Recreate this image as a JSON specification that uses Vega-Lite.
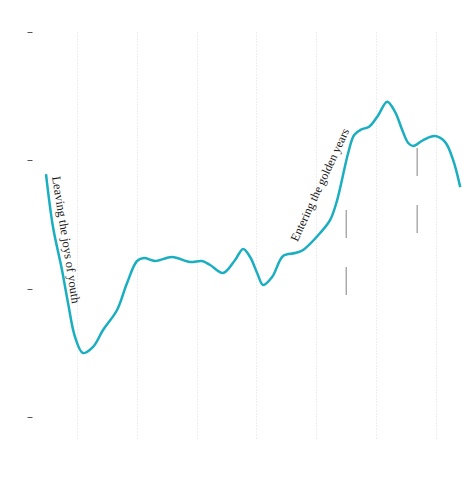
{
  "$schema": "https://vega.github.io/schema/vega-lite/v6.json",
  "width": 428,
  "height": 408,
  "autosize": {"type": "none"},
  "padding": {"left": 32, "top": 32, "right": 14, "bottom": 45},
  "background": "white",
  "config": {"view": {"stroke": null}},
  "datasets": {
    "curve": [
      {"age": 14.84, "v": 1.893},
      {"age": 16.01, "v": 1.480},
      {"age": 17.51, "v": 1.145},
      {"age": 18.52, "v": 0.888},
      {"age": 19.69, "v": 0.623},
      {"age": 21.02, "v": 0.498},
      {"age": 22.70, "v": 0.545},
      {"age": 24.37, "v": 0.677},
      {"age": 26.71, "v": 0.833},
      {"age": 28.38, "v": 1.044},
      {"age": 30.05, "v": 1.215},
      {"age": 31.22, "v": 1.238},
      {"age": 33.06, "v": 1.215},
      {"age": 35.90, "v": 1.246},
      {"age": 38.91, "v": 1.207},
      {"age": 40.91, "v": 1.215},
      {"age": 42.25, "v": 1.184},
      {"age": 44.42, "v": 1.122},
      {"age": 46.43, "v": 1.223},
      {"age": 47.77, "v": 1.309},
      {"age": 48.94, "v": 1.246},
      {"age": 50.11, "v": 1.122},
      {"age": 51.11, "v": 1.028},
      {"age": 52.61, "v": 1.090},
      {"age": 54.45, "v": 1.254},
      {"age": 56.46, "v": 1.277},
      {"age": 57.79, "v": 1.301},
      {"age": 60.64, "v": 1.433},
      {"age": 62.31, "v": 1.535},
      {"age": 63.48, "v": 1.690},
      {"age": 65.32, "v": 2.057},
      {"age": 66.32, "v": 2.197},
      {"age": 67.50, "v": 2.240},
      {"age": 68.82, "v": 2.262},
      {"age": 70.32, "v": 2.350},
      {"age": 71.83, "v": 2.457},
      {"age": 73.17, "v": 2.376},
      {"age": 74.35, "v": 2.236},
      {"age": 75.35, "v": 2.135},
      {"age": 76.18, "v": 2.112},
      {"age": 77.85, "v": 2.158},
      {"age": 79.85, "v": 2.189},
      {"age": 81.52, "v": 2.142},
      {"age": 82.86, "v": 2.002},
      {"age": 84.04, "v": 1.791}
    ],
    "marks": [
      {"age": 65.0, "top": 1.613, "bottom": 0.950},
      {"age": 76.85, "top": 2.096, "bottom": 1.433}
    ],
    "notes": [
      {"age": 15.84, "v": 1.870, "label": "Leaving the joys of youth", "kind": "youth"},
      {"age": 56.85, "v": 1.362, "label": "Entering the golden years", "kind": "golden"}
    ]
  },
  "encoding": {
    "x": {
      "field": "age", "type": "quantitative",
      "scale": {"domain": [12.5, 84], "nice": false, "zero": false},
      "axis": {
        "title": null, "labels": false, "ticks": false, "domain": false,
        "values": [20, 30, 40, 50, 60, 70, 80],
        "grid": true, "gridColor": "#dcdcdc", "gridDash": [1, 2], "gridWidth": 1
      }
    }
  },
  "layer": [
    {
      "data": {"name": "curve"},
      "mark": {"type": "line", "interpolate": "catmull-rom", "color": "#19AEC0", "strokeWidth": 2.5},
      "encoding": {
        "y": {
          "field": "v", "type": "quantitative",
          "scale": {"domain": [-0.18, 3], "nice": false, "zero": false},
          "axis": {
            "title": null, "labels": false, "domain": false, "grid": false,
            "values": [0, 1, 2, 3], "ticks": true, "tickSize": 5, "tickColor": "#555", "tickWidth": 1
          }
        }
      }
    },
    {
      "data": {"name": "marks"},
      "mark": {"type": "rule", "color": "#a6a6a6", "strokeWidth": 1.4, "strokeDash": [28, 29]},
      "encoding": {
        "y": {"field": "top", "type": "quantitative"},
        "y2": {"field": "bottom"}
      }
    },
    {
      "data": {"name": "notes"},
      "transform": [{"filter": "datum.kind == 'youth'"}],
      "mark": {"type": "text", "angle": 81, "align": "left", "baseline": "alphabetic", "font": "Liberation Serif", "fontSize": 12.5, "color": "#1a1a1a"},
      "encoding": {
        "y": {"field": "v", "type": "quantitative"},
        "text": {"field": "label"}
      }
    },
    {
      "data": {"name": "notes"},
      "transform": [{"filter": "datum.kind == 'golden'"}],
      "mark": {"type": "text", "angle": 295, "align": "left", "baseline": "alphabetic", "font": "Liberation Serif", "fontSize": 12, "color": "#1a1a1a"},
      "encoding": {
        "y": {"field": "v", "type": "quantitative"},
        "text": {"field": "label"}
      }
    }
  ]
}
